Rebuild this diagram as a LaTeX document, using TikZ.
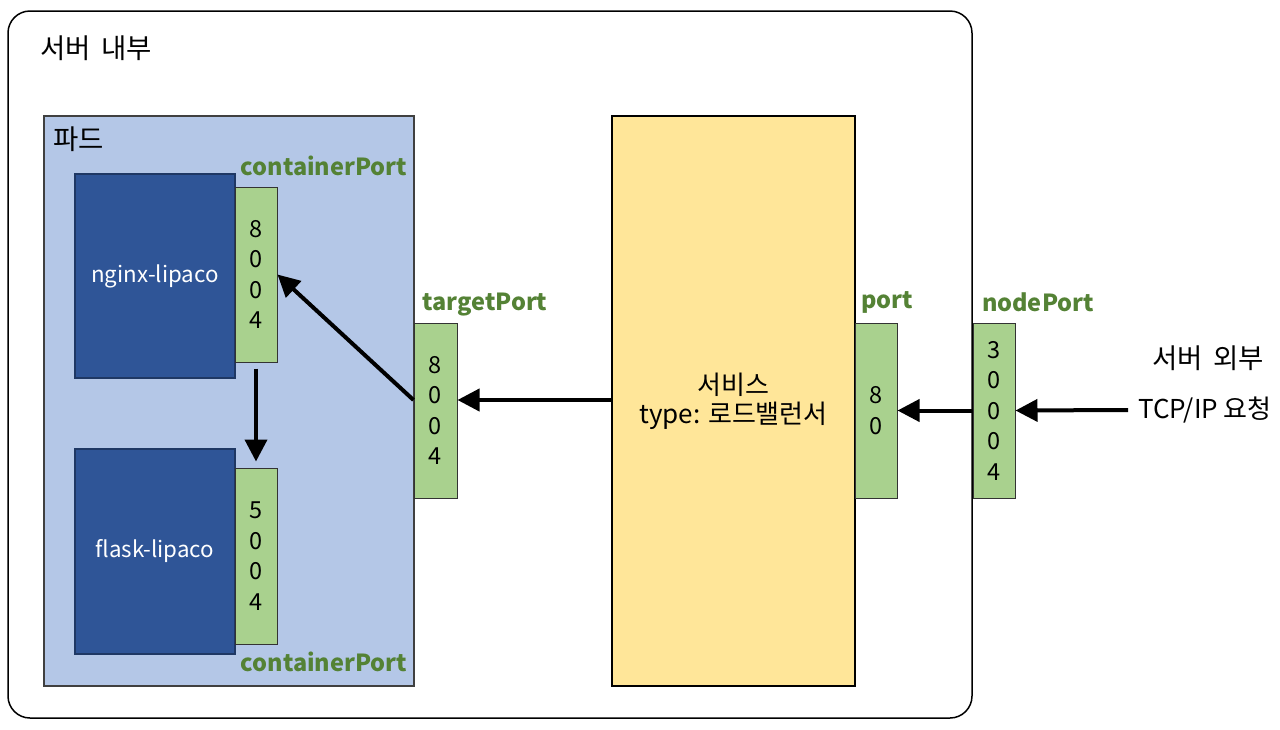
\documentclass[tikz,border=0pt]{standalone}
\usepackage{fontspec}
\setmainfont{Noto Sans CJK KR}
\usetikzlibrary{arrows.meta}
\definecolor{podfill}{HTML}{B4C7E7}
\definecolor{ctfill}{HTML}{2F5597}
\definecolor{ctline}{HTML}{1F3864}
\definecolor{portfill}{HTML}{A9D18E}
\definecolor{svcfill}{HTML}{FFE699}
\definecolor{lblgreen}{HTML}{548235}
\tikzset{
  container/.style={draw=ctline, fill=ctfill, line width=1.2pt, minimum width=160pt, minimum height=204pt, inner sep=0pt, text=white, font=\fontsize{22.3}{26}\selectfont},
  portbox/.style={draw=black!80, fill=portfill, line width=1pt, minimum width=42pt, minimum height=175pt, inner sep=0pt, align=center, font=\fontsize{23.5}{30.5}\selectfont},
  lbl/.style={text=lblgreen, font=\bfseries\fontsize{23.5}{27}\selectfont, inner sep=0pt},
  plain/.style={font=\fontsize{26}{30}\selectfont, inner sep=0pt},
  korean/.style={font=\fontsize{27.5}{30}\selectfont, inner sep=0pt},
  conn/.style={line width=4pt, -{Triangle[length=22pt,width=22pt]}},
}
\begin{document}
\begin{tikzpicture}[x=1pt,y=-1pt]
\useasboundingbox (0,0) rectangle (1280,729);
\fill[white] (0,0) rectangle (1280,729);
% outer server box
\node[draw=black, line width=1.5pt, rounded corners=22pt, minimum width=964pt, minimum height=707pt, inner sep=0pt] (server) at (490,364.5) {};
\node[korean, anchor=west] (srvlbl) at (40,48) {서버\hspace{0.15em} 내부};
% pod
\node[draw=black!75, fill=podfill, line width=1.2pt, minimum width=370pt, minimum height=570pt, inner sep=0pt] (pod) at (229,401) {};
\node[korean, anchor=west] (podlbl) at (53,139) {파드};
% containers
\node[container] (nginx) at (155,276) {nginx-lipaco};
\node[container, minimum height=205pt] (flask) at (155,551.5) {flask-lipaco};
\node[portbox] (np) at (256,274.5) {8\\0\\0\\4};
\node[portbox, minimum height=176pt] (fp) at (256,556) {5\\0\\0\\4};
\node[lbl] (cp1) at (324,166) {containerPort};
\node[lbl] (cp2) at (324,662) {containerPort};
% service
\node[draw=black, fill=svcfill, line width=1.2pt, minimum width=243pt, minimum height=570pt, inner sep=0pt, align=center, font=\fontsize{26}{29}\selectfont] (svc) at (733.5,401) {서비스\\type: 로드밸런서};
% ports
\node[portbox, minimum width=43pt] (tp) at (435.5,410.5) {8\\0\\0\\4};
\node[lbl] (tplbl) at (485,305) {targetPort};
\node[portbox] (sp) at (876,410.5) {8\\0};
\node[lbl] (splbl) at (887,302) {port};
\node[portbox] (ndp) at (994,410.5) {3\\0\\0\\0\\4};
\node[lbl] (ndplbl) at (1038,302) {nodePort};
% outside
\node[korean] (outlbl) at (1208,358) {서버\hspace{0.15em} 외부};
\node[plain] (req) at (1205,410) {TCP/IP 요청};
\coordinate (ext) at (1128,410);
% connectors
\draw[conn] (svc.west |- 0,400) -- (tp.east |- 0,400);
\draw[conn] (tp.west |- 0,400) -- (np.east);
\draw[conn] ([yshift=-6pt]np.south) -- ([yshift=6pt]fp.north);
\draw[conn] (ndp.west) -- (sp.east);
\draw[conn] (ext) -- (ndp.east);
\end{tikzpicture}
\end{document}
